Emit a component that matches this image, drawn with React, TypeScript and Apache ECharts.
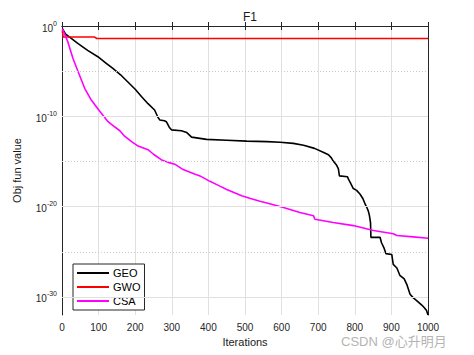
import React, { useEffect, useRef } from "react";
import * as echarts from "echarts";

// Iteration numbers and log10(objective value)
const geoIter = [1, 10, 44, 70, 98, 120, 139, 160, 180, 200, 217, 235, 253, 262, 267, 280, 285, 293, 299, 326, 341, 354, 395, 450, 505, 560, 596, 632, 660, 690, 715, 728, 736, 741, 750, 755, 758, 780, 782, 787, 796, 805, 814, 822, 828, 834, 837, 840, 843, 844, 869, 873, 880, 885, 901, 905, 915, 923, 935, 942, 951, 960, 969, 983, 990, 996, 1000];
const geoLog = [-0.3, -0.9, -1.95, -2.7, -3.4, -4.1, -4.7, -5.4, -6.2, -7.0, -7.8, -8.6, -9.3, -10.1, -10.4, -10.5, -10.6, -11.2, -11.5, -11.6, -11.8, -12.3, -12.55, -12.65, -12.75, -12.8, -12.87, -13.0, -13.2, -13.55, -14.0, -14.25, -14.6, -14.96, -15.4, -15.8, -16.6, -16.7, -16.9, -17.3, -18.0, -18.2, -18.6, -19.1, -19.7, -20.2, -20.5, -21.0, -21.8, -23.4, -23.4, -24.0, -24.6, -25.2, -25.3, -26.4, -26.8, -27.6, -28.0, -28.6, -29.7, -30.1, -30.4, -30.9, -31.2, -31.5, -32.0];

const gwoIter = [1, 3, 88, 95, 1000];
const gwoLog = [-0.5, -1.21, -1.21, -1.38, -1.38];

const csaIter = [1, 16, 30, 44, 62, 80, 103, 126, 135, 158, 171, 190, 208, 235, 250, 271, 290, 308, 331, 362, 377, 404, 430, 450, 491, 515, 541, 570, 605, 650, 687, 691, 741, 796, 851, 905, 915, 960, 1000];
const csaLog = [-0.3, -1.76, -3.6, -5.07, -6.9, -8.2, -9.45, -10.6, -10.9, -11.6, -12.2, -12.8, -13.3, -13.7, -14.2, -14.8, -15.1, -15.3, -15.9, -16.4, -16.6, -17.2, -17.7, -18.1, -18.8, -19.1, -19.4, -19.7, -20.1, -20.65, -21.0, -21.4, -21.75, -22.1, -22.65, -23.0, -23.2, -23.35, -23.5];

const yMajorTicks = [-30, -20, -10, 0];
const yMinorGrid = [-25, -15, -5];
const yMajorGrid = [-30, -20, -10];

const zip = (xs: number[], ys: number[]) => xs.map((x, i) => [x, ys[i]]);

const FONT = "'Liberation Sans', Arial, Helvetica, sans-serif";
const AX = "#262626";

export default function App() {
  const ref = useRef<HTMLDivElement>(null);
  useEffect(() => {
    if (!ref.current) return;
    const chart = echarts.init(ref.current, null, { renderer: "svg" });
    const gridLines = [
      ...yMajorGrid.map((v) => ({ yAxis: v, lineStyle: { color: "#e0e0e0", type: "solid", width: 1 } })),
      ...yMinorGrid.map((v) => ({ yAxis: v, lineStyle: { color: "#cccccc", type: [1, 2], width: 1 } })),
    ];
    chart.setOption({
      animation: false,
      backgroundColor: "#ffffff",
      textStyle: { fontFamily: FONT },
      title: {
        text: "F1",
        left: 245,
        top: 6,
        textAlign: "center",
        textStyle: { fontFamily: FONT, fontSize: 12, fontWeight: "normal", color: "#1a1a1a" },
      },
      grid: { left: 62, top: 26, width: 366, height: 289, containLabel: false },
      legend: {
        data: [
          { name: "GEO", icon: "rect" },
          { name: "GWO", icon: "rect" },
          { name: "CSA", icon: "rect" },
        ],
        orient: "vertical",
        left: 73,
        top: 264,
        itemWidth: 32,
        itemHeight: 2,
        itemGap: 2,
        padding: [3, 4, 3, 4],
        borderColor: AX,
        borderWidth: 1,
        backgroundColor: "#ffffff",
        textStyle: { fontFamily: FONT, fontSize: 11, lineHeight: 12, color: "#000", padding: [0, 0, 0, -1] },
      },
      xAxis: [
        {
          type: "value",
          min: 0,
          max: 1000,
          interval: 100,
          name: "Iterations",
          nameLocation: "middle",
          nameGap: 20,
          nameTextStyle: { fontFamily: FONT, fontSize: 11, color: "#1a1a1a" },
          axisLine: { show: true, lineStyle: { color: AX, width: 1 } },
          axisTick: { show: true, inside: true, length: 4, lineStyle: { color: AX } },
          axisLabel: { fontFamily: FONT, fontSize: 10, color: AX, margin: 7, formatter: (v: number) => String(v) },
          splitLine: { show: true, lineStyle: { color: "#e0e0e0", width: 1 } },
        },
        {
          type: "value",
          position: "top",
          min: 0,
          max: 1000,
          interval: 100,
          axisLine: { show: true, onZero: false, lineStyle: { color: AX, width: 1 } },
          axisTick: { show: true, inside: true, length: 4, lineStyle: { color: AX } },
          axisLabel: { show: false },
          splitLine: { show: false },
        },
      ],
      yAxis: [
        {
          type: "value",
          min: -32,
          max: 0,
          name: "Obj fun value",
          nameLocation: "middle",
          nameGap: 40,
          nameTextStyle: { fontFamily: FONT, fontSize: 11, color: "#1a1a1a" },
          axisLine: { show: true, lineStyle: { color: AX, width: 1 } },
          axisTick: { show: true, inside: true, length: 4, lineStyle: { color: AX }, customValues: yMajorTicks },
          axisLabel: {
            customValues: yMajorTicks,
            margin: 5,
            formatter: (v: number) => `{b|10}{s|${v}}`,
            rich: {
              b: { fontFamily: FONT, fontSize: 10, color: AX, padding: [4, 0, 0, 0] },
              s: { fontFamily: FONT, fontSize: 7, color: AX, padding: [0, 0, 6, 0] },
            },
          },
          splitLine: { show: false },
        },
        {
          type: "value",
          position: "right",
          min: -32,
          max: 0,
          axisLine: { show: true, onZero: false, lineStyle: { color: AX, width: 1 } },
          axisTick: { show: true, inside: true, length: 4, lineStyle: { color: AX }, customValues: yMajorTicks },
          axisLabel: { show: false, customValues: yMajorTicks },
          splitLine: { show: false },
        },
      ],
      series: [
        {
          name: "grid",
          type: "line",
          data: [],
          silent: true,
          markLine: {
            silent: true,
            symbol: "none",
            label: { show: false },
            animation: false,
            data: gridLines,
          },
        },
        {
          name: "GEO",
          type: "line",
          data: zip(geoIter, geoLog),
          symbol: "none",
          lineStyle: { color: "#000000", width: 1.6 },
          itemStyle: { color: "#000000" },
        },
        {
          name: "GWO",
          type: "line",
          data: zip(gwoIter, gwoLog),
          symbol: "none",
          lineStyle: { color: "#ff0000", width: 1.6 },
          itemStyle: { color: "#ff0000" },
        },
        {
          name: "CSA",
          type: "line",
          data: zip(csaIter, csaLog),
          symbol: "none",
          lineStyle: { color: "#ff00ff", width: 1.6 },
          itemStyle: { color: "#ff00ff" },
        },
      ],
      graphic: [
        {
          type: "text",
          left: 341,
          top: 335,
          silent: true,
          style: {
            text: "CSDN @心升明月",
            fill: "#b4b4b4",
            font: `13px 'Liberation Sans', 'Noto Sans CJK SC', sans-serif`,
          },
        },
      ],
    });
    return () => chart.dispose();
  }, []);
  return (
    <div
      ref={ref}
      style={{ position: "absolute", left: 0, top: 0, width: 474, height: 355, background: "#fff" }}
    />
  );
}
